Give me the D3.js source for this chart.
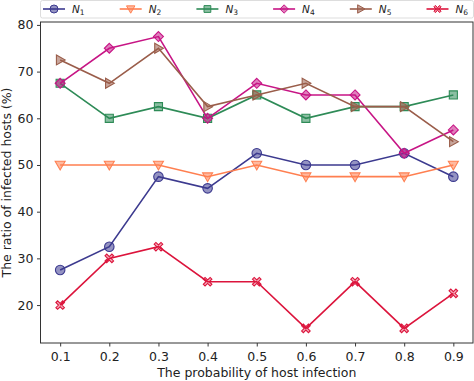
<!DOCTYPE html>
<html><head><meta charset="utf-8">
<script src="https://cdn.jsdelivr.net/npm/d3@7"></script>
<style>body{margin:0;background:#fff}svg{display:block}text{font-family:"DejaVu Sans",sans-serif}</style>
</head><body>
<svg id="c" width="474" height="381"></svg>
<script>
const xValues = [0.1,0.2,0.3,0.4,0.5,0.6,0.7,0.8,0.9];
const seriesNames = ["1","2","3","4","5","6"];
const n1 = [27.5,32.5,47.5,45,52.5,50,50,52.5,47.5];
const n2 = [50,50,50,47.5,50,47.5,47.5,47.5,50];
const n3 = [67.5,60,62.5,60,65,60,62.5,62.5,65];
const n4 = [67.5,75,77.5,60,67.5,65,65,52.5,57.5];
const n5 = [72.5,67.5,75,62.5,65,67.5,62.5,62.5,55];
const n6 = [20,30,32.5,25,25,15,25,15,22.5];
const yTicks = [20,30,40,50,60,70,80];
const xTicks = [0.1,0.2,0.3,0.4,0.5,0.6,0.7,0.8,0.9];
const colors = ["#3c3a8f","#ff7f50","#2e8b57","#c71585","#9a5d4a","#dc143c"];
const markers = ["circle","tridown","square","diamond","triright","x"];
const allSeries = [n1,n2,n3,n4,n5,n6];

const svg = d3.select("#c");
const L=40.5, R=473, T=22, B=343;
const x = d3.scaleLinear().domain([0.06,0.94]).range([L,R]);
const y = d3.scaleLinear().domain([11.875,80.625]).range([B,T]);

function markerPath(type, s){
  const h=s/2;
  switch(type){
    case "circle": return d3.symbol(d3.symbolCircle, Math.PI*h*h)();
    case "square": { const a=h*0.85; return `M${-a},${-a}H${a}V${a}H${-a}Z`; }
    case "diamond": { const a=h*1.05; return `M0,${-a}L${a},0L0,${a}L${-a},0Z`; }
    case "tridown": { const a=h*1.05; return `M${-a},${-a*0.75}L${a},${-a*0.75}L0,${a}Z`; }
    case "triright": { const a=h*1.05; return `M${-a*0.75},${-a}L${a},0L${-a*0.75},${a}Z`; }
    case "x": { const a=h*0.9, w=a*0.4;
      const pts=[[0,-w],[a-w,-a],[a,-a+w],[w,0],[a,a-w],[a-w,a],[0,w],[-a+w,a],[-a,a-w],[-w,0],[-a,-a+w],[-a+w,-a]];
      return "M"+pts.map(p=>p.join(",")).join("L")+"Z"; }
  }
}

// axes
const yAxis = d3.axisLeft(y).tickValues(yTicks).tickSize(3.5).tickPadding(3.5).tickFormat(d3.format("d"));
const xAxis = d3.axisBottom(x).tickValues(xTicks).tickSize(3.5).tickPadding(3.5).tickFormat(d3.format(".1f"));
const gy = svg.append("g").attr("transform",`translate(${L},0)`).call(yAxis);
const gx = svg.append("g").attr("transform",`translate(0,${B})`).call(xAxis);
[gy,gx].forEach(g=>{
  g.select(".domain").remove();
  g.selectAll("text").attr("font-size",12.5).attr("fill","#222");
  g.selectAll("line").attr("stroke","#222").attr("stroke-width",0.9);
});
gx.selectAll("text").attr("dy","0.9em");

// series
const line = d3.line().x((d,i)=>x(xValues[i])).y(d=>y(d));
allSeries.forEach((s,k)=>{
  const g = svg.append("g");
  g.append("path").attr("d",line(s)).attr("fill","none").attr("stroke",colors[k]).attr("stroke-width",1.6);
  g.selectAll("path.m").data(s).join("path").attr("class","m")
    .attr("d",markerPath(markers[k],9.5))
    .attr("transform",(d,i)=>`translate(${x(xValues[i])},${y(d)})`)
    .attr("fill",colors[k]).attr("fill-opacity",markers[k]==="x"?0.35:0.55)
    .attr("stroke",colors[k]).attr("stroke-width",1.1);
});

// frame
svg.append("rect").attr("x",L).attr("y",T).attr("width",R-L).attr("height",B-T)
  .attr("fill","none").attr("stroke","#333").attr("stroke-width",1);

// labels
svg.append("text").attr("x",(L+R)/2).attr("y",377).attr("text-anchor","middle")
  .attr("font-size",12.5).attr("fill","#222").text("The probability of host infection");
svg.append("text").attr("transform",`translate(11,${(T+B)/2}) rotate(-90)`).attr("text-anchor","middle")
  .attr("font-size",12.5).attr("fill","#222").text("The ratio of infected hosts (%)");

// legend
const lg = svg.append("g");
lg.append("rect").attr("x",40.5).attr("y",0.5).attr("width",433).attr("height",17.5)
  .attr("fill","#fff").attr("stroke","#ddd").attr("rx",2);
seriesNames.forEach((n,k)=>{
  const cx = 43 + k*76.7;
  const cy = 9;
  lg.append("line").attr("x1",cx).attr("x2",cx+22).attr("y1",cy).attr("y2",cy)
    .attr("stroke",colors[k]).attr("stroke-width",1.6);
  lg.append("path").attr("d",markerPath(markers[k],8)).attr("transform",`translate(${cx+11},${cy})`)
    .attr("fill",colors[k]).attr("fill-opacity",0.55).attr("stroke",colors[k]).attr("stroke-width",1);
  const t = lg.append("text").attr("x",cx+29).attr("y",cy+4).attr("font-size",10.5).attr("fill","#222");
  t.append("tspan").attr("font-style","italic").text("N");
  t.append("tspan").attr("font-size",7.5).attr("dy",2).text(n);
});
</script>
</body></html>
